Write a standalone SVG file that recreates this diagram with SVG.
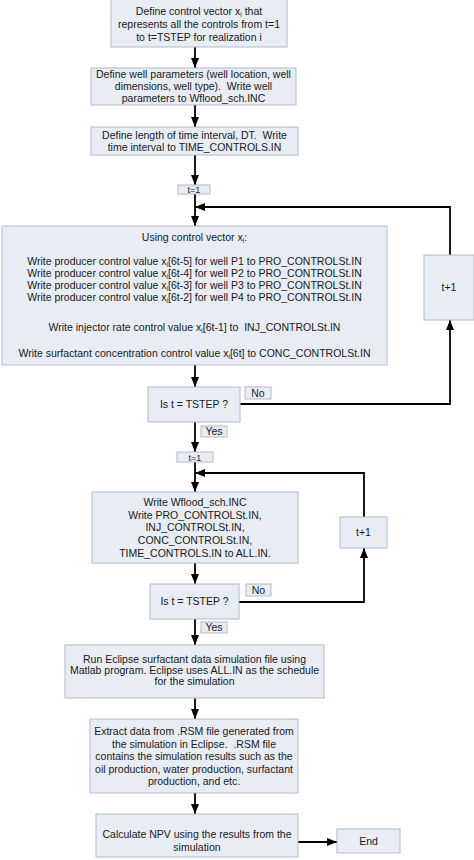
<svg xmlns="http://www.w3.org/2000/svg" width="474" height="860" viewBox="0 0 474 860">
<defs>
<marker id="ah" markerUnits="userSpaceOnUse" markerWidth="10" markerHeight="10" viewBox="0 0 10 10" refX="10" refY="5" orient="auto">
<path d="M0,1 L10,5 L0,9 Z" fill="#000"/>
</marker>
</defs>
<style>
.box{fill:#e7ecf5;stroke:#b3bac8;stroke-width:1}
.t{font-family:"Liberation Sans",Arial,Helvetica,sans-serif;font-size:10.5px;fill:#1a1a1a;text-anchor:middle;white-space:pre}
.c{fill:none;stroke:#000;stroke-width:1.8}
.sub{font-size:6.5px}
</style>
<rect width="474" height="860" fill="#fff"/>
<g id="connectors">
<line class="c" x1="195" y1="47" x2="195" y2="68" marker-end="url(#ah)"/>
<line class="c" x1="195" y1="105" x2="195" y2="127" marker-end="url(#ah)"/>
<line class="c" x1="195" y1="155" x2="195" y2="185" marker-end="url(#ah)"/>
<line class="c" x1="195" y1="194" x2="195" y2="226" marker-end="url(#ah)"/>
<line class="c" x1="195" y1="365" x2="195" y2="387" marker-end="url(#ah)"/>
<polyline class="c" points="240,404 450,404 450,320" marker-end="url(#ah)"/>
<polyline class="c" points="450,255 450,207 195,207" marker-end="url(#ah)"/>
<line class="c" x1="195" y1="422" x2="195" y2="452" marker-end="url(#ah)"/>
<line class="c" x1="195" y1="462" x2="195" y2="492" marker-end="url(#ah)"/>
<polyline class="c" points="239,602 364,602 364,548" marker-end="url(#ah)"/>
<polyline class="c" points="364,517 364,473 195,473" marker-end="url(#ah)"/>
<line class="c" x1="195" y1="563" x2="195" y2="584" marker-end="url(#ah)"/>
<line class="c" x1="195" y1="619" x2="195" y2="645" marker-end="url(#ah)"/>
<line class="c" x1="195" y1="698" x2="195" y2="719" marker-end="url(#ah)"/>
<line class="c" x1="195" y1="793" x2="195" y2="814" marker-end="url(#ah)"/>
<line class="c" x1="298" y1="842" x2="337" y2="842" marker-end="url(#ah)"/>
</g>
<g id="n1">
<rect class="box" x="111" y="-1" width="176" height="48"/>
<text class="t" x="199" y="15">Define control vector x<tspan class="sub" dy="2">i</tspan><tspan dy="-2"> that</tspan></text>
<text class="t" x="199" y="28">represents all the controls from t=1</text>
<text class="t" x="199" y="41">to t=TSTEP for realization i</text>
</g>
<g id="n2">
<rect class="box" x="91" y="68" width="205" height="37"/>
<text class="t" x="193.5" y="78">Define well parameters (well location, well</text>
<text class="t" x="193.5" y="90">dimensions, well type).  Write well</text>
<text class="t" x="193.5" y="102">parameters to Wflood_sch.INC</text>
</g>
<g id="n3">
<rect class="box" x="91" y="127" width="207" height="28"/>
<text class="t" x="194.5" y="139">Define length of time interval, DT.  Write</text>
<text class="t" x="194.5" y="151">time interval to TIME_CONTROLS.IN</text>
</g>
<g id="t1a">
<rect class="box" x="178" y="185" width="32" height="9"/>
<text class="t" x="194" y="193" style="font-size:9px">t=1</text>
</g>
<g id="n4">
<rect class="box" x="2" y="226" width="385" height="139"/>
<text class="t" x="194.5" y="241">Using control vector x<tspan class="sub" dy="2">i</tspan><tspan dy="-2">:</tspan></text>
<text class="t" x="194.5" y="265">Write producer control value x<tspan class="sub" dy="2">i</tspan><tspan dy="-2">[6t-5] for well P1 to PRO_CONTROLSt.IN</tspan></text>
<text class="t" x="194.5" y="277">Write producer control value x<tspan class="sub" dy="2">i</tspan><tspan dy="-2">[6t-4] for well P2 to PRO_CONTROLSt.IN</tspan></text>
<text class="t" x="194.5" y="289">Write producer control value x<tspan class="sub" dy="2">i</tspan><tspan dy="-2">[6t-3] for well P3 to PRO_CONTROLSt.IN</tspan></text>
<text class="t" x="194.5" y="301">Write producer control value x<tspan class="sub" dy="2">i</tspan><tspan dy="-2">[6t-2] for well P4 to PRO_CONTROLSt.IN</tspan></text>
<text class="t" x="194.5" y="331">Write injector rate control value x<tspan class="sub" dy="2">i</tspan><tspan dy="-2">[6t-1] to  INJ_CONTROLSt.IN</tspan></text>
<text class="t" x="194.5" y="357">Write surfactant concentration control value x<tspan class="sub" dy="2">i</tspan><tspan dy="-2">[6t] to CONC_CONTROLSt.IN</tspan></text>
</g>
<g id="d1">
<rect class="box" x="148" y="387" width="92" height="35"/>
<text class="t" x="194" y="408">Is t = TSTEP ?</text>
</g>
<g id="no1">
<rect class="box" x="245" y="387" width="26" height="12"/>
<text class="t" x="258" y="397">No</text>
</g>
<g id="yes1">
<rect class="box" x="201" y="426" width="26" height="11"/>
<text class="t" x="214" y="435">Yes</text>
</g>
<g id="inc1">
<rect class="box" x="424" y="255" width="50" height="65"/>
<text class="t" x="449" y="291">t+1</text>
</g>
<g id="t1b">
<rect class="box" x="177" y="452" width="36" height="10"/>
<text class="t" x="195" y="460.5" style="font-size:9px">t=1</text>
</g>
<g id="n5">
<rect class="box" x="92" y="492" width="206" height="71"/>
<text class="t" x="195" y="506">Write Wflood_sch.INC</text>
<text class="t" x="195" y="519">Write PRO_CONTROLSt.IN,</text>
<text class="t" x="195" y="531">INJ_CONTROLSt.IN,</text>
<text class="t" x="195" y="544">CONC_CONTROLSt.IN,</text>
<text class="t" x="195" y="557">TIME_CONTROLS.IN to ALL.IN.</text>
</g>
<g id="inc2">
<rect class="box" x="340" y="517" width="47" height="31"/>
<text class="t" x="363.5" y="536">t+1</text>
</g>
<g id="d2">
<rect class="box" x="150" y="584" width="89" height="35"/>
<text class="t" x="194.5" y="605">Is t = TSTEP ?</text>
</g>
<g id="no2">
<rect class="box" x="246" y="584" width="25" height="12"/>
<text class="t" x="258.5" y="594">No</text>
</g>
<g id="yes2">
<rect class="box" x="201" y="622" width="26" height="11"/>
<text class="t" x="214" y="631">Yes</text>
</g>
<g id="n6">
<rect class="box" x="65" y="645" width="259" height="53"/>
<text class="t" x="194.5" y="663">Run Eclipse surfactant data simulation file using</text>
<text class="t" x="194.5" y="674">Matlab program. Eclipse uses ALL.IN as the schedule</text>
<text class="t" x="194.5" y="685">for the simulation</text>
</g>
<g id="n7">
<rect class="box" x="90" y="719" width="208" height="74"/>
<text class="t" x="194" y="735">Extract data from .RSM file generated from</text>
<text class="t" x="194" y="748">the simulation in Eclipse.  .RSM file</text>
<text class="t" x="194" y="760">contains the simulation results such as the</text>
<text class="t" x="194" y="773">oil production, water production, surfactant</text>
<text class="t" x="194" y="785">production, and etc.</text>
</g>
<g id="n8">
<rect class="box" x="96" y="814" width="202" height="43"/>
<text class="t" x="197" y="838">Calculate NPV using the results from the</text>
<text class="t" x="197" y="851">simulation</text>
</g>
<g id="end">
<rect class="box" x="337" y="829" width="63" height="24"/>
<text class="t" x="368.5" y="845">End</text>
</g>
</svg>
